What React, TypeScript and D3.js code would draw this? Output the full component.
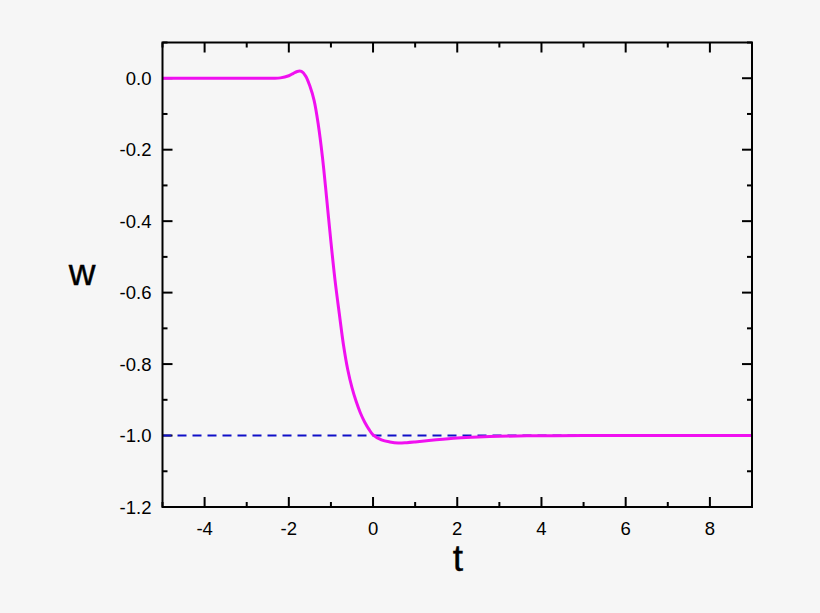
import * as d3 from 'd3';
import React, { useEffect } from 'react';

// curve w(t)
const tValues = [
  -5, -2.4, -2.2, -2.0, -1.9, -1.8, -1.7, -1.6, -1.5, -1.4, -1.3, -1.2, -1.1, -1.0,
  -0.9, -0.8, -0.7, -0.6, -0.5, -0.4, -0.3, -0.2, -0.1, 0, 0.2, 0.4, 0.6, 0.8, 1.0,
  1.5, 2, 2.5, 3, 4, 5, 9,
];
const wValues = [
  0, 0, 0.001, 0.007, 0.013, 0.019, 0.019, 0.006, -0.022, -0.062, -0.13, -0.222, -0.338,
  -0.458, -0.568, -0.66, -0.748, -0.816, -0.866, -0.905, -0.937, -0.962, -0.982, -0.998,
  -1.012, -1.018, -1.021, -1.02, -1.018, -1.012, -1.007, -1.004, -1.002, -1.0005, -1, -1,
];
const xTicks = [-4, -2, 0, 2, 4, 6, 8];
const yTicks = [0.0, -0.2, -0.4, -0.6, -0.8, -1.0, -1.2];
const asymptote = -1;

export default function App() {
  const ref = React.useRef<SVGSVGElement>(null);

  useEffect(() => {
    if (!ref.current) return;
    const svg = d3.select(ref.current);
    svg.selectAll('*').remove();

    const left = 162.5, right = 752, top = 42.5, bottom = 507;
    const x = d3.scaleLinear().domain([-5, 9]).range([left, right]);
    const y = d3.scaleLinear().domain([-1.2, 0.1]).range([bottom, top]);
    const font = 'Arial, "Liberation Sans", sans-serif';

    svg.append('rect').attr('width', 820).attr('height', 613).attr('fill', '#f6f6f6');

    const plot = svg.append('g');

    // ticks, inward on all four sides
    const tk = plot.append('g').attr('stroke', '#000').attr('stroke-width', 2);
    d3.range(-5, 10, 1).forEach(v => {
      const len = v % 2 === 0 ? 10 : 5;
      tk.append('line').attr('x1', x(v)).attr('x2', x(v)).attr('y1', bottom).attr('y2', bottom - len);
      tk.append('line').attr('x1', x(v)).attr('x2', x(v)).attr('y1', top).attr('y2', top + len);
    });
    d3.range(-12, 2, 1).forEach(k => {
      const v = k / 10;
      const len = k % 2 === 0 ? 10 : 5;
      tk.append('line').attr('x1', left).attr('x2', left + len).attr('y1', y(v)).attr('y2', y(v));
      tk.append('line').attr('x1', right).attr('x2', right - len).attr('y1', y(v)).attr('y2', y(v));
    });

    // dashed asymptote
    plot
      .append('line')
      .attr('x1', x(-5))
      .attr('x2', x(9))
      .attr('y1', y(asymptote))
      .attr('y2', y(asymptote))
      .attr('stroke', '#1010c8')
      .attr('stroke-width', 2)
      .attr('stroke-dasharray', '9,6');

    const pts = tValues.map((t, i) => [t, wValues[i]] as [number, number]);
    const line = d3
      .line<[number, number]>()
      .x(d => x(d[0]))
      .y(d => y(d[1]))
      .curve(d3.curveCatmullRom.alpha(0.5));
    plot
      .append('path')
      .attr('d', line(pts) as string)
      .attr('fill', 'none')
      .attr('stroke', '#f010f0')
      .attr('stroke-width', 3);

    plot
      .append('rect')
      .attr('x', left)
      .attr('y', top)
      .attr('width', right - left)
      .attr('height', bottom - top)
      .attr('fill', 'none')
      .attr('stroke', '#000')
      .attr('stroke-width', 2);

    // tick labels
    plot
      .selectAll('.xl')
      .data(xTicks)
      .enter()
      .append('text')
      .attr('x', d => x(d))
      .attr('y', 535)
      .attr('text-anchor', 'middle')
      .style('font-family', font)
      .style('font-size', '18.5px')
      .text(d => d3.format('d')(d).replace('−', '-'));
    plot
      .selectAll('.yl')
      .data(yTicks)
      .enter()
      .append('text')
      .attr('x', 151.5)
      .attr('y', d => y(d) + 6.5)
      .attr('text-anchor', 'end')
      .style('font-family', font)
      .style('font-size', '18.5px')
      .text(d => d3.format('.1f')(d).replace('−', '-'));

    // axis titles
    svg
      .append('text')
      .attr('x', 82)
      .attr('y', 285)
      .attr('text-anchor', 'middle')
      .style('font-family', font)
      .style('font-size', '37px')
      .attr('stroke', '#000')
      .attr('stroke-width', 0.4)
      .text('w');
    svg
      .append('text')
      .attr('x', 458)
      .attr('y', 571)
      .attr('text-anchor', 'middle')
      .style('font-family', font)
      .style('font-size', '37px')
      .attr('stroke', '#000')
      .attr('stroke-width', 0.4)
      .text('t');
  }, []);

  return (
    <svg
      ref={ref}
      width={820}
      height={613}
      style={{ position: 'absolute', left: 0, top: 0, display: 'block' }}
    />
  );
}
